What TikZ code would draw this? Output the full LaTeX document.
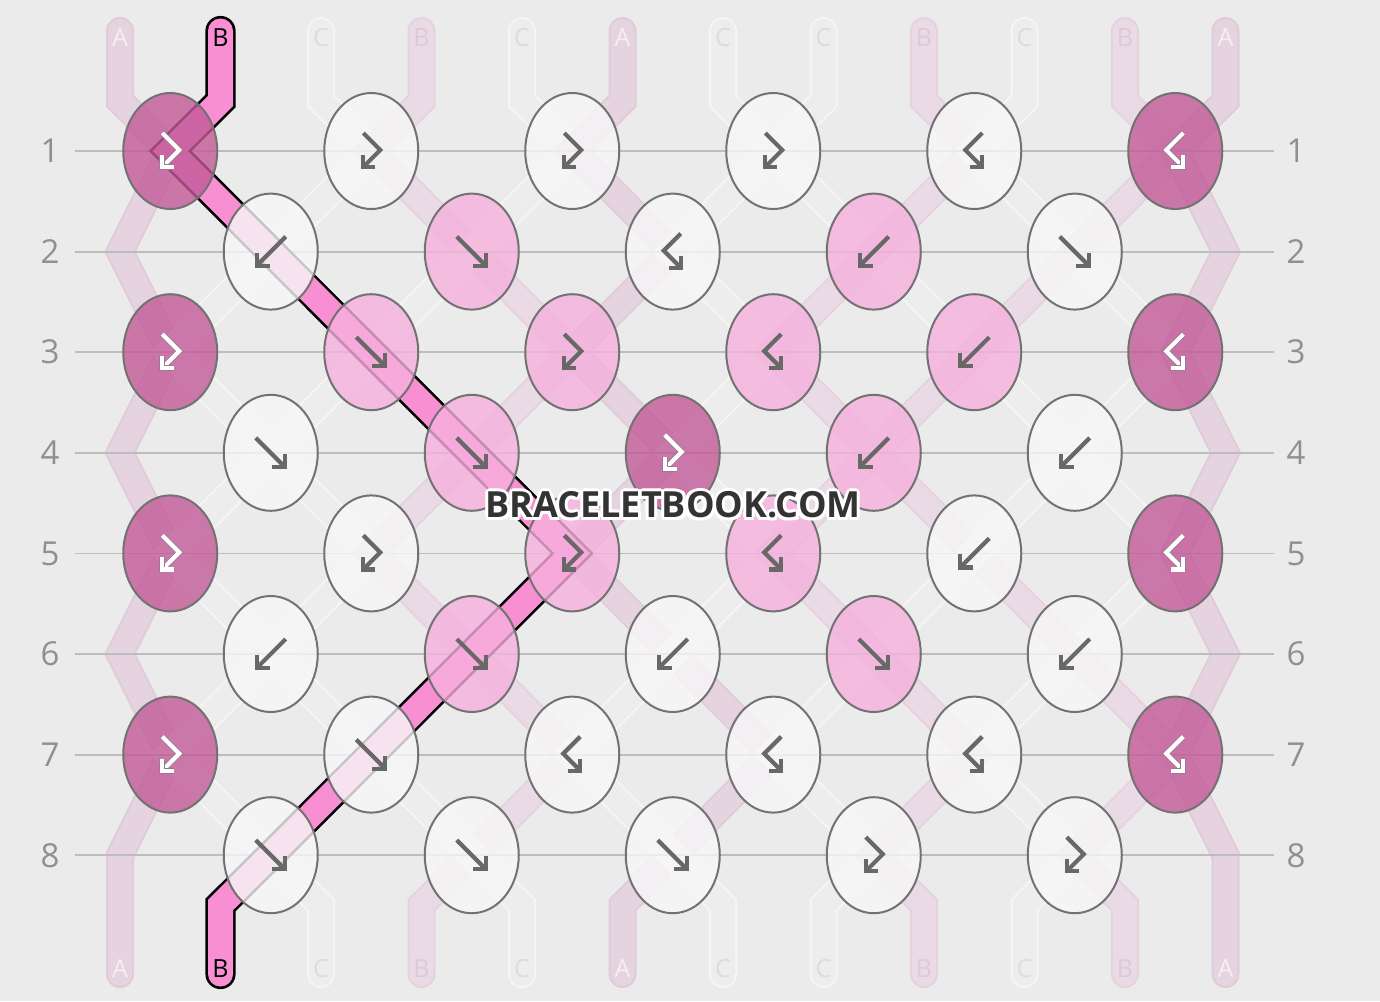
\documentclass[tikz,border=0pt]{standalone}
\usepackage{fontspec}
\setmainfont{Open Sans}
\usetikzlibrary{shapes.geometric}
\definecolor{bgc}{HTML}{EBEBEB}
\definecolor{kDc}{HTML}{C25A98}
\definecolor{kPc}{HTML}{F6B0DC}
\definecolor{kWc}{HTML}{F7F7F7}
\definecolor{knotb}{HTML}{727272}
\definecolor{sA}{HTML}{E5D3DF}
\definecolor{sAo}{HTML}{E0CCD9}
\definecolor{sB}{HTML}{EADAE5}
\definecolor{sBo}{HTML}{E4D3DE}
\definecolor{sC}{HTML}{EDEDED}
\definecolor{sCo}{HTML}{F5F5F5}
\definecolor{hl}{HTML}{F78FD2}
\definecolor{gridc}{HTML}{BDBDBD}
\definecolor{numc}{HTML}{909090}
\definecolor{arrc}{HTML}{686868}
\definecolor{arro}{HTML}{9A7A90}
\definecolor{lA}{HTML}{F6EEF3}
\definecolor{lB}{HTML}{DCCAD6}
\definecolor{lC}{HTML}{DCDCDC}
\definecolor{wmc}{HTML}{333333}
\newcommand\haloed[1]{\leavevmode
  \rlap{\color{white}\hspace{3pt}#1}\rlap{\color{white}\hspace{-3pt}#1}%
  \rlap{\color{white}\raisebox{3pt}{#1}}\rlap{\color{white}\raisebox{-3pt}{#1}}%
  \rlap{\color{white}\hspace{2.2pt}\raisebox{2.2pt}{#1}}\rlap{\color{white}\hspace{-2.2pt}\raisebox{2.2pt}{#1}}%
  \rlap{\color{white}\hspace{2.2pt}\raisebox{-2.2pt}{#1}}\rlap{\color{white}\hspace{-2.2pt}\raisebox{-2.2pt}{#1}}%
  #1}
\begin{document}
\begin{tikzpicture}[x=1pt,y=-1pt,
  knot/.style={ellipse,draw=knotb,line width=2pt,fill opacity=0.8,minimum width=94pt,minimum height=116pt,inner sep=0pt},
  kD/.style={knot,fill=kDc}, kP/.style={knot,fill=kPc}, kW/.style={knot,fill=kWc},
  arr/.style={line width=4.2pt,line cap=butt,line join=miter,draw=arrc},
  akD/.style={arr/.style={line width=0.8pt,draw=arro,double=white,double distance=4.2pt,line cap=butt,line join=miter}},
  akP/.style={}, akW/.style={},
  strand/.style={line width=2pt,double distance=24pt,line cap=round,line join=miter},
  strA/.style={strand,draw=sAo,double=sA},
  strB/.style={strand,draw=sBo,double=sB},
  strC/.style={strand,draw=sCo,double=sC},
  hlstrand/.style={line width=2.6pt,double distance=25pt,draw=black,double=hl,line cap=round,line join=miter},
  gridline/.style={draw=gridc,line width=1.8pt},
  num/.style={text=numc,font=\fontsize{33}{36}\selectfont,inner sep=0pt},
  lbl/.style={font=\fontsize{25}{28}\selectfont,inner sep=0pt},
  wmtext/.style={font=\bfseries\fontsize{36}{40}\selectfont,inner sep=0pt},
  pics/fw/.style={code={\draw[arr] (-15,-15)--(13,13); \draw[arr] (1,14)--(14,14)--(14,1);}},
  pics/bw/.style={code={\draw[arr] (15,-15)--(-13,13); \draw[arr] (-1,14)--(-14,14)--(-14,1);}},
  pics/fb/.style={code={\draw[arr] (-8,-18)--(9,-1)--(-7,15); \draw[arr] (-8,4)--(-8,16)--(4,16);}},
  pics/bf/.style={code={\draw[arr] (8,-18)--(-9,-1)--(7,15); \draw[arr] (8,4)--(8,16)--(-4,16);}}
]
\useasboundingbox (0,0) rectangle (1380,1001);
\fill[bgc] (0,0) rectangle (1380,1001);

% coordinates
\foreach \i in {0,...,11} {
  \coordinate (t\i) at ({120+100.5*\i},31);
  \coordinate (tb\i) at ({120+100.5*\i},101);
  \coordinate (bb\i) at ({120+100.5*\i},905);
  \coordinate (b\i) at ({120+100.5*\i},974);
  \coordinate (lt\i) at ({120+100.5*\i},38);
  \coordinate (lb\i) at ({120+100.5*\i},969);
}
\foreach \r in {1,3,5,7} \foreach \j in {0,...,5}
  \coordinate (c\r-\j) at ({170.25+201*\j},{151+100.6*(\r-1)});
\foreach \r in {2,4,6,8} {
  \foreach \j in {0,...,4}
    \coordinate (c\r-\j) at ({270.75+201*\j},{151+100.6*(\r-1)});
  \coordinate (c\r-L) at (120,{151+100.6*(\r-1)});
  \coordinate (c\r-R) at (1225.5,{151+100.6*(\r-1)});
}

% background strings
\draw[strA] (t0)--(tb0)--(c1-0)--(c2-L)--(c3-0)--(c4-L)--(c5-0)--(c6-L)--(c7-0)--(c8-L)--(b0);
\draw[strC] (t2)--(tb2)--(c1-1)--(c2-0)--(c3-0)--(c4-0)--(c5-1)--(c6-0)--(c7-0)--(c8-0)--(bb2)--(b2);
\draw[strB] (t3)--(tb3)--(c1-1)--(c2-1)--(c3-2)--(c4-1)--(c5-1)--(c6-1)--(c7-2)--(c8-1)--(bb3)--(b3);
\draw[strC] (t4)--(tb4)--(c1-2)--(c2-1)--(c3-1)--(c4-0)--(c5-0)--(c6-0)--(c7-1)--(c8-1)--(bb4)--(b4);
\draw[strA] (t5)--(tb5)--(c1-2)--(c2-2)--(c3-2)--(c4-2)--(c5-2)--(c6-2)--(c7-3)--(c8-2)--(bb5)--(b5);
\draw[strC] (t6)--(tb6)--(c1-3)--(c2-2)--(c3-3)--(c4-2)--(c5-3)--(c6-2)--(c7-2)--(c8-2)--(bb6)--(b6);
\draw[strC] (t7)--(tb7)--(c1-3)--(c2-3)--(c3-4)--(c4-4)--(c5-5)--(c6-4)--(c7-4)--(c8-4)--(bb9)--(b9);
\draw[strB] (t8)--(tb8)--(c1-4)--(c2-3)--(c3-3)--(c4-3)--(c5-4)--(c6-4)--(c7-5)--(c8-4)--(bb10)--(b10);
\draw[strC] (t9)--(tb9)--(c1-4)--(c2-4)--(c3-5)--(c4-4)--(c5-4)--(c6-3)--(c7-3)--(c8-3)--(bb7)--(b7);
\draw[strB] (t10)--(tb10)--(c1-5)--(c2-4)--(c3-4)--(c4-3)--(c5-3)--(c6-3)--(c7-4)--(c8-3)--(bb8)--(b8);
\draw[strA] (t11)--(tb11)--(c1-5)--(c2-R)--(c3-5)--(c4-R)--(c5-5)--(c6-R)--(c7-5)--(c8-R)--(b11);

% string labels
\foreach \i/\l/\c in {0/A/lA,2/C/lC,3/B/lB,4/C/lC,5/A/lA,6/C/lC,7/C/lC,8/B/lB,9/C/lC,10/B/lB,11/A/lA}
  \node[lbl,text=\c] (st\i) at (lt\i) {\l};
\foreach \i/\l/\c in {0/A/lA,2/C/lC,3/B/lB,4/C/lC,5/A/lA,6/C/lC,7/C/lC,8/B/lB,9/C/lC,10/B/lB,11/A/lA}
  \node[lbl,text=\c] (sb\i) at (lb\i) {\l};

% row lines and numbers
\foreach \r in {1,...,8} {
  \coordinate (gl\r) at (75,{151+100.6*(\r-1)});
  \coordinate (gr\r) at (1274,{151+100.6*(\r-1)});
  \draw[gridline] (gl\r) -- (gr\r);
  \node[num] (nl\r) at (50,{151+100.6*(\r-1)}) {\r};
  \node[num] (nr\r) at (1296,{151+100.6*(\r-1)}) {\r};
}

% highlighted string B
\draw[hlstrand] (t1)--(tb1)--(c1-0)--(c2-0)--(c3-1)--(c4-1)--(c5-2)--(c6-1)--(c7-1)--(c8-0)--(bb1)--(b1);
\node[lbl,text=black] (hlt) at (lt1) {B};
\node[lbl,text=black] (hlb) at (lb1) {B};

% knots
\foreach \j/\c/\a in {0/kD/fb,1/kW/fb,2/kW/fb,3/kW/fb,4/kW/bf,5/kD/bf}
  {\node[\c] (k1-\j) at (c1-\j) {}; \pic[a\c] at (c1-\j) {\a};}
\foreach \j/\c/\a in {0/kW/bw,1/kP/fw,2/kW/bf,3/kP/bw,4/kW/fw}
  {\node[\c] (k2-\j) at (c2-\j) {}; \pic[a\c] at (c2-\j) {\a};}
\foreach \j/\c/\a in {0/kD/fb,1/kP/fw,2/kP/fb,3/kP/bf,4/kP/bw,5/kD/bf}
  {\node[\c] (k3-\j) at (c3-\j) {}; \pic[a\c] at (c3-\j) {\a};}
\foreach \j/\c/\a in {0/kW/fw,1/kP/fw,2/kD/fb,3/kP/bw,4/kW/bw}
  {\node[\c] (k4-\j) at (c4-\j) {}; \pic[a\c] at (c4-\j) {\a};}
\foreach \j/\c/\a in {0/kD/fb,1/kW/fb,2/kP/fb,3/kP/bf,4/kW/bw,5/kD/bf}
  {\node[\c] (k5-\j) at (c5-\j) {}; \pic[a\c] at (c5-\j) {\a};}
\foreach \j/\c/\a in {0/kW/bw,1/kP/fw,2/kW/bw,3/kP/fw,4/kW/bw}
  {\node[\c] (k6-\j) at (c6-\j) {}; \pic[a\c] at (c6-\j) {\a};}
\foreach \j/\c/\a in {0/kD/fb,1/kW/fw,2/kW/bf,3/kW/bf,4/kW/bf,5/kD/bf}
  {\node[\c] (k7-\j) at (c7-\j) {}; \pic[a\c] at (c7-\j) {\a};}
\foreach \j/\c/\a in {0/kW/fw,1/kW/fw,2/kW/fw,3/kW/fb,4/kW/fb}
  {\node[\c] (k8-\j) at (c8-\j) {}; \pic[a\c] at (c8-\j) {\a};}

% watermark
\node[wmtext,text=wmc] (wm) at (673,505) {\haloed{BRACELETBOOK.COM}};
\end{tikzpicture}
\end{document}
